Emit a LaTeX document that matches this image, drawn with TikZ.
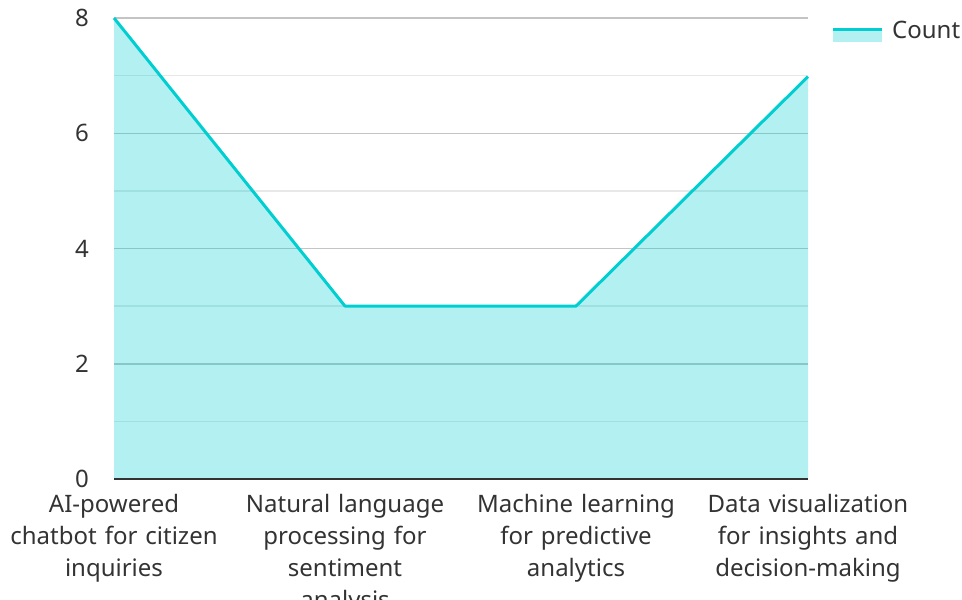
\documentclass[tikz,border=0pt]{standalone}
\usepackage{fontspec}
\setmainfont{Noto Sans}
\definecolor{txt}{HTML}{333333}
\definecolor{major}{HTML}{C4C4C4}
\definecolor{minor}{HTML}{E8E8E8}
\definecolor{turq}{HTML}{00CED1}
\tikzset{
  lbl/.style={text=txt, font=\fontsize{24}{32}\selectfont, inner sep=0pt},
  ylbl/.style={lbl, anchor=east},
  xlbl/.style={lbl, anchor=north, align=center, text width=240pt},
  majorgrid/.style={major, line width=1.5pt},
  minorgrid/.style={minor, line width=1.5pt},
  series/.style={turq, line width=3pt, line join=round},
  area/.style={fill=turq, fill opacity=0.3},
}
\begin{document}
\begin{tikzpicture}[x=1pt,y=-1pt]
\useasboundingbox (0,0) rectangle (962,600);
\clip (0,0) rectangle (962,600);
% grid
\foreach \v in {1,3,5,7} {
  \draw[minorgrid] (114,{479-57.625*\v}) -- (808,{479-57.625*\v});
}
\foreach \v in {2,4,6,8} {
  \draw[majorgrid] (114,{479-57.625*\v}) -- (808,{479-57.625*\v});
}
% data points
\coordinate (p1) at (114,18);
\coordinate (p2) at (345,306.1);
\coordinate (p3) at (576,306.1);
\coordinate (p4) at (808,76.6);
\coordinate (b1) at (114,479);
\coordinate (b4) at (808,479);
\fill[area] (b1) -- (p1) -- (p2) -- (p3) -- (p4) -- (b4) -- cycle;
\draw[series] (p1) -- (p2) -- (p3) -- (p4);
% axis
\draw[txt, line width=2.5pt] (b1) -- (b4);
% y labels
\foreach \v in {0,2,4,6,8} {
  \node[ylbl] (y\v) at (89,{479-57.625*\v}) {\v};
}
% x labels
\node[xlbl] (x1) at (114,494) {AI-powered\\chatbot for citizen\\inquiries};
\node[xlbl] (x2) at (345,494) {Natural language\\processing for\\sentiment\\analysis};
\node[xlbl] (x3) at (576,494) {Machine learning\\for predictive\\analytics};
\node[xlbl] (x4) at (808,494) {Data visualization\\for insights and\\decision-making};
% legend
\fill[area] (833,27.5) rectangle (882,42);
\draw[series, line cap=butt] (833,29.5) coordinate (la) -- (882,29.5) coordinate (lb);
\node[lbl, anchor=west] (leg) at (892,30) {Count};
\end{tikzpicture}
\end{document}
